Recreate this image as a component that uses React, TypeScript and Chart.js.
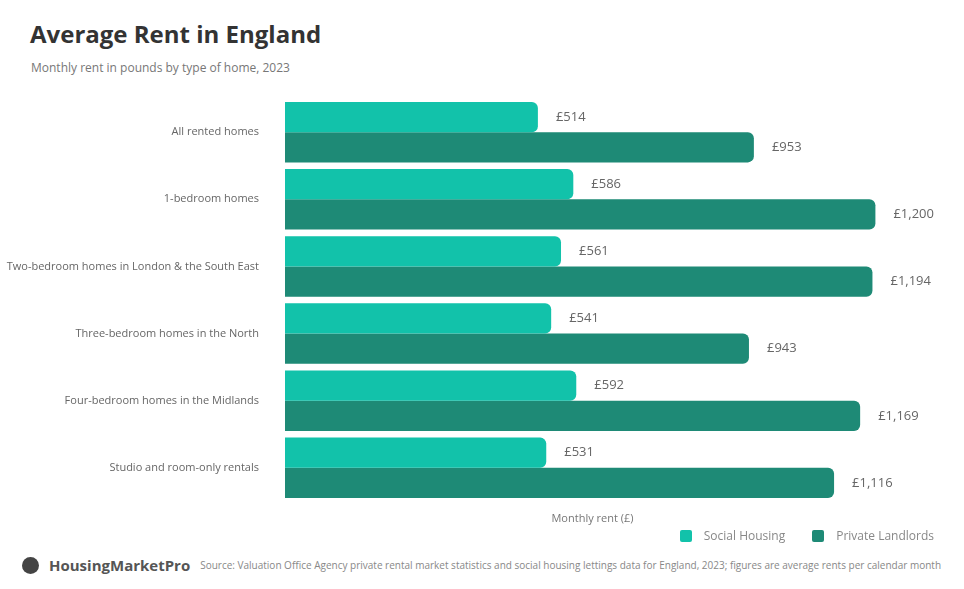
import { useEffect, useRef } from 'react';
import { Chart, registerables } from 'chart.js';

Chart.register(...registerables);

const categories = [
    'All rented homes',
    '1-bedroom homes',
    'Two-bedroom homes in London & the South East',
    'Three-bedroom homes in the North',
    'Four-bedroom homes in the Midlands',
    'Studio and room-only rentals',
];
const seriesNames = ['Social Housing', 'Private Landlords'];
const socialValues = [514, 586, 561, 541, 592, 531];
const privateValues = [953, 1200, 1194, 943, 1169, 1116];
const axisTitle = 'Monthly rent (£)';

const LIGHT = '#12c2aa';
const DARK = '#1e8a76';
const FONT = "'Open Sans', 'Liberation Sans', sans-serif";

const formatMoney = (v: number) => '£' + v.toLocaleString('en-GB');

const valueLabels = {
    id: 'valueLabels',
    afterDatasetsDraw(chart: Chart) {
        const ctx = chart.ctx;
        ctx.save();
        ctx.font = `13px ${FONT}`;
        ctx.fillStyle = '#666';
        ctx.textAlign = 'left';
        ctx.textBaseline = 'middle';
        chart.data.datasets.forEach((ds, i) => {
            const meta = chart.getDatasetMeta(i);
            meta.data.forEach((bar: any, j: number) => {
                ctx.fillText(formatMoney(ds.data[j] as number), bar.x + 18, bar.y);
            });
        });
        ctx.restore();
    },
};

const RentChart = () => {
    const canvasRef = useRef<HTMLCanvasElement>(null);

    useEffect(() => {
        if (!canvasRef.current) return;
        const chart = new Chart(canvasRef.current, {
            type: 'bar',
            data: {
                labels: categories,
                datasets: [
                    {
                        label: seriesNames[0],
                        data: socialValues,
                        backgroundColor: LIGHT,
                        borderRadius: { topRight: 6, bottomRight: 6 },
                        borderSkipped: false,
                        categoryPercentage: 0.9,
                        barPercentage: 1,
                    },
                    {
                        label: seriesNames[1],
                        data: privateValues,
                        backgroundColor: DARK,
                        borderRadius: { topRight: 6, bottomRight: 6 },
                        borderSkipped: false,
                        categoryPercentage: 0.9,
                        barPercentage: 1,
                    },
                ],
            },
            options: {
                indexAxis: 'y',
                animation: false,
                responsive: false,
                layout: { padding: { top: 0, right: 64, left: 0, bottom: 0 } },
                plugins: {
                    legend: { display: false },
                    tooltip: { enabled: false },
                },
                scales: {
                    x: {
                        display: false,
                        min: 0,
                        max: 1250,
                    },
                    y: {
                        grid: { display: false },
                        border: { display: false },
                        ticks: {
                            color: '#666',
                            font: { family: FONT, size: 11 },
                            padding: 18,
                        },
                        afterFit: (scale: any) => {
                            scale.width = 285;
                        },
                    },
                },
            },
            plugins: [valueLabels],
        });
        return () => chart.destroy();
    }, []);

    return <canvas ref={canvasRef} width={964} height={452} />;
};

const LegendItem = ({ color, label }: { color: string; label: string }) => (
    <span style={{ display: 'inline-flex', alignItems: 'center', gap: 12 }}>
        <span style={{ display: 'inline-block', width: 12, height: 12, borderRadius: 2, background: color }} />
        <span>{label}</span>
    </span>
);

export default function App() {
    return (
        <div
            style={{
                position: 'absolute',
                left: 0,
                top: 0,
                width: 964,
                height: 589,
                background: '#fff',
                fontFamily: FONT,
                overflow: 'hidden',
            }}
        >
            <div style={{ position: 'absolute', left: 30, top: 17, fontSize: 24, fontWeight: 700, color: '#333' }}>
                Average Rent in England
            </div>
            <div style={{ position: 'absolute', left: 31, top: 59, fontSize: 12, color: '#777' }}>
                Monthly rent in pounds by type of home, 2023
            </div>
            <div style={{ position: 'absolute', left: 0, top: 74 }}>
                <RentChart />
            </div>
            <div
                style={{
                    position: 'absolute',
                    left: 285,
                    width: 615,
                    top: 510,
                    textAlign: 'center',
                    fontSize: 11,
                    color: '#777',
                }}
            >
                {axisTitle}
            </div>
            <div
                style={{
                    position: 'absolute',
                    right: 30,
                    top: 527,
                    display: 'flex',
                    gap: 27,
                    fontSize: 12,
                    color: '#888',
                }}
            >
                <LegendItem color={LIGHT} label={seriesNames[0]} />
                <LegendItem color={DARK} label={seriesNames[1]} />
            </div>
            <div
                style={{
                    position: 'absolute',
                    left: 22,
                    top: 555,
                    display: 'flex',
                    alignItems: 'center',
                    gap: 10,
                    whiteSpace: 'nowrap',
                }}
            >
                <span
                    style={{
                        display: 'inline-block',
                        width: 17,
                        height: 17,
                        borderRadius: 9,
                        background: '#444',
                    }}
                />
                <span style={{ fontSize: 15, fontWeight: 700, color: '#555' }}>HousingMarketPro</span>
                <span style={{ fontSize: 10, color: '#888' }}>
                    Source: Valuation Office Agency private rental market statistics and social housing lettings data for England, 2023; figures are average rents per calendar month
                </span>
            </div>
        </div>
    );
}
